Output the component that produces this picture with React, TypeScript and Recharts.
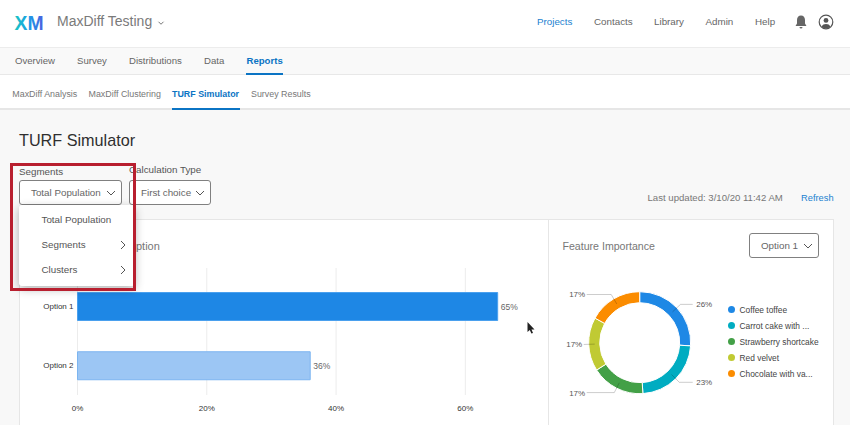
import { Bar, BarChart, CartesianGrid, Cell, LabelList, Legend, Pie, PieChart, XAxis, YAxis } from "recharts";
import type { CSSProperties, ReactNode } from "react";

const optionNames = ["Option 1", "Option 2"];
const optionReach = [65, 36];
const optionFills = ["#1e87e5", "#97c3f3"];
const optionStrokes = ["#4aa0ee", "#7cb5f0"];
const reachTicks = [0, 20, 40, 60];

const featureNames = ["Coffee toffee", "Carrot cake with ...", "Strawberry shortcake", "Red velvet", "Chocolate with va..."];
const featureShares = [26, 23, 17, 17, 17];
const featureColors = ["#1e88e5", "#00acc1", "#43a047", "#c0ca33", "#fb8c00"];

const topLinks = [["Projects", 537], ["Contacts", 594], ["Library", 654], ["Admin", 705.5], ["Help", 755]] as const;
const navTabs = [["Overview", 15], ["Survey", 77], ["Distributions", 129], ["Data", 204], ["Reports", 246.5]] as const;
const subTabs = [["MaxDiff Analysis", 12.3], ["MaxDiff Clustering", 88.5], ["TURF Simulator", 172], ["Survey Results", 251]] as const;

const FONT = "'Liberation Sans', Arial, sans-serif";
const BLUE = "#0b74c4";

const barData = optionNames.map((name, i) => ({ name, reach: optionReach[i] }));
const pieData = featureNames.map((name, i) => ({ name, share: featureShares[i] }));

function Txt({ x, y, size = 10, color = "#666", bold, children }: { x: number; y: number; size?: number; color?: string; bold?: boolean; children: ReactNode }) {
  const style: CSSProperties = {
    position: "absolute",
    left: x,
    top: y - 9.5,
    height: 20,
    lineHeight: "20px",
    fontSize: size,
    color,
    fontWeight: bold ? 700 : 400,
    whiteSpace: "nowrap",
  };
  return <div style={style}>{children}</div>;
}

function Box({ x, y, w, h, style }: { x: number; y: number; w: number; h: number; style: CSSProperties }) {
  return <div style={{ position: "absolute", left: x, top: y, width: w, height: h, boxSizing: "border-box", ...style }} />;
}

function Chevron({ x, y, size = 4, dir = "down", color = "#555" }: { x: number; y: number; size?: number; dir?: "down" | "right"; color?: string }) {
  const d = dir === "down" ? `M${-size} ${-size / 2}L0 ${size / 2}L${size} ${-size / 2}` : `M${-size / 2} ${-size}L${size / 2} 0L${-size / 2} ${size}`;
  return (
    <svg width={20} height={20} viewBox="-10 -10 20 20" style={{ position: "absolute", left: x - 10, top: y - 10 }}>
      <path d={d} fill="none" stroke={color} strokeWidth={1} />
    </svg>
  );
}

function Select({ x, y, w, h, label, textX, chevX, size = 9.8 }: { x: number; y: number; w: number; h: number; label: string; textX: number; chevX: number; size?: number }) {
  return (
    <>
      <Box x={x} y={y} w={w} h={h} style={{ background: "#fff", border: "1px solid #808080", borderRadius: 3 }} />
      <Txt x={textX} y={y + h / 2} size={size} color="#666">{label}</Txt>
      <Chevron x={chevX} y={y + h / 2 + 0.5} />
    </>
  );
}

function renderPieLabel(props: any) {
  const { cx, cy, midAngle, outerRadius, value } = props;
  const rad = (-midAngle * Math.PI) / 180;
  const cos = Math.cos(rad);
  const sin = Math.sin(rad);
  const right = cos >= 0;
  const sx = cx + 45 * cos;
  const sy = cy + 45 * sin;
  const ex = cx + 56 * cos;
  const ey = cy + 56 * sin;
  const endX = right ? cx + outerRadius + 2 : Math.min(ex, cx - outerRadius - 2);
  return (
    <g>
      <polyline points={`${sx},${sy} ${ex},${ey} ${endX},${ey}`} fill="none" stroke="rgba(0,0,0,0.2)" strokeWidth={1} />
      <text x={right ? endX + 3.5 : endX - 1.5} y={ey} dy={3} textAnchor={right ? "start" : "end"} fontSize={8} fill="#555" fontFamily={FONT}>
        {`${value}%`}
      </text>
    </g>
  );
}

function FeatureLegend({ payload }: any) {
  return (
    <div>
      {(payload || []).map((item: any) => (
        <div key={item.value} style={{ position: "relative", height: 16, lineHeight: "16px", fontSize: 8.4, color: "#444", whiteSpace: "nowrap", paddingLeft: 12 }}>
          <span style={{ position: "absolute", left: 0, top: 4.5, width: 7, height: 7, borderRadius: "50%", background: item.color }} />
          {item.value}
        </div>
      ))}
    </div>
  );
}

export default function App() {
  return (
    <div style={{ position: "absolute", left: 0, top: 0, width: 850, height: 425, overflow: "hidden", background: "#f8f8f8", fontFamily: FONT }}>
      {/* header */}
      <Box x={0} y={0} w={850} h={48} style={{ background: "#fff", borderBottom: "1px solid #ececec" }} />
      <svg width={34} height={24} style={{ position: "absolute", left: 13, top: 10 }}>
        <defs>
          <linearGradient id="xmLogo" x1="0" y1="0" x2="1" y2="0">
            <stop offset="0%" stopColor="#19c7c2" />
            <stop offset="50%" stopColor="#1c9be6" />
            <stop offset="100%" stopColor="#4b5fe0" />
          </linearGradient>
        </defs>
        <text x={1.5} y={20} fontSize={21} fontWeight={700} fill="url(#xmLogo)" fontFamily={FONT} textLength={29} lengthAdjust="spacingAndGlyphs">XM</text>
      </svg>
      <Txt x={57} y={20.5} size={14} color="#7a7a7a">MaxDiff Testing</Txt>
      <Chevron x={161} y={22.5} size={2.5} color="#777" />
      {topLinks.map(([label, x]) => (
        <Txt key={label} x={x} y={21.5} size={9.8} color={label === "Projects" ? "#1b82d0" : "#666"}>{label}</Txt>
      ))}
      <svg width={14} height={16} viewBox="0 0 14 16" style={{ position: "absolute", left: 793.5, top: 14 }}>
        <path d="M7 1.5C4.5 1.5 3 3.5 3 6V9.5L1.5 12H12.5L11 9.5V6C11 3.5 9.5 1.5 7 1.5Z M5.5 13H8.5A1.5 1.5 0 0 1 5.5 13Z" fill="#666" />
      </svg>
      <svg width={16} height={16} viewBox="0 0 16 16" style={{ position: "absolute", left: 818, top: 14 }}>
        <circle cx={8} cy={8} r={6.8} fill="none" stroke="#555" strokeWidth={1.2} />
        <circle cx={8} cy={6.4} r={2.4} fill="#555" />
        <path d="M3.6 12.8C4.4 10.6 6 10 8 10C10 10 11.6 10.6 12.4 12.8C10 15 6 15 3.6 12.8Z" fill="#555" />
      </svg>

      {/* nav rows */}
      <Box x={0} y={48} w={850} h={27} style={{ background: "#f9f9f9", borderBottom: "1px solid #e8e8e8" }} />
      {navTabs.map(([label, x]) => (
        <Txt key={label} x={x} y={60.5} size={9.6} bold={label === "Reports"} color={label === "Reports" ? BLUE : "#666"}>{label}</Txt>
      ))}
      <Box x={246} y={73} w={37} h={2} style={{ background: BLUE }} />
      <Box x={0} y={75} w={850} h={35} style={{ background: "#fff", borderBottom: "2px solid #e6e6e6" }} />
      {subTabs.map(([label, x]) => (
        <Txt key={label} x={x} y={93.5} size={8.9} bold={label === "TURF Simulator"} color={label === "TURF Simulator" ? BLUE : "#777"}>{label}</Txt>
      ))}
      <Box x={172} y={107.5} w={68} h={2} style={{ background: BLUE }} />

      <Txt x={19} y={139} size={16.2} color="#2f2f2f">TURF Simulator</Txt>
      <Txt x={129} y={169.5} size={9.8} color="#555">Calculation Type</Txt>
      <Txt x={19} y={171.5} size={9.8} color="#555">Segments</Txt>
      <Txt x={647.5} y={197.5} size={9.6} color="#777">Last updated: 3/10/20 11:42 AM</Txt>
      <Txt x={801} y={197.5} size={9.3} color="#1b82d0">Refresh</Txt>

      {/* card */}
      <Box x={19} y={219} w={815} h={220} style={{ background: "#fff", border: "1px solid #e6e6e6" }} />
      <Box x={548} y={219} w={1} h={206} style={{ background: "#e6e6e6" }} />
      <Txt x={136} y={245.5} size={11} color="#777">ption</Txt>
      <Txt x={562.5} y={245.5} size={10.6} color="#777">Feature Importance</Txt>
      <Select x={749} y={233} w={70} h={25} label="Option 1" textX={761} chevX={808} />

      <div style={{ position: "absolute", left: 0, top: 219 }}>
        <BarChart width={548} height={206} data={barData} layout="vertical" margin={{ top: 49, right: 18, bottom: 0, left: 0 }}>
          <CartesianGrid horizontal={false} stroke="#ececec" syncWithTicks />
          <XAxis
            type="number"
            domain={[0, 70]}
            ticks={reachTicks}
            tickFormatter={(v: number) => `${v}%`}
            axisLine={false}
            tickLine={false}
            height={30}
            tickMargin={4}
            tick={{ fontSize: 8, fill: "#333", fontFamily: FONT }}
          />
          <YAxis
            type="category"
            dataKey="name"
            width={77.5}
            axisLine={false}
            tickLine={false}
            padding={{ top: 8.5, bottom: 0 }}
            tickSize={0}
            tickMargin={4}
            tick={{ fontSize: 8, fill: "#333", fontFamily: FONT }}
          />
          <Bar dataKey="reach" barSize={28} isAnimationActive={false}>
            {barData.map((d, i) => (
              <Cell key={d.name} fill={optionFills[i]} stroke={optionStrokes[i]} fillOpacity={i === 1 ? 0.95 : 1} />
            ))}
            <LabelList dataKey="reach" position="right" offset={3} formatter={(v: any) => `${v}%`} style={{ fontSize: 8.5, fill: "#666", fontFamily: FONT }} />
          </Bar>
        </BarChart>
      </div>

      <div style={{ position: "absolute", left: 549, top: 219 }}>
        <PieChart width={284} height={206} margin={{ top: 0, right: 0, bottom: 0, left: 0 }}>
          <Pie
            data={pieData}
            dataKey="share"
            nameKey="name"
            cx={90.7}
            cy={123.7}
            innerRadius={40}
            outerRadius={51}
            startAngle={90}
            endAngle={-270}
            stroke="#fff"
            strokeWidth={1}
            label={renderPieLabel}
            labelLine={false}
            isAnimationActive={false}
          >
            {pieData.map((d, i) => (
              <Cell key={d.name} fill={featureColors[i]} />
            ))}
          </Pie>
          <Legend content={FeatureLegend} itemSorter={null} layout="vertical" wrapperStyle={{ left: 178.5, top: 82.7, width: 105, bottom: "auto" }} />
        </PieChart>
      </div>

      <svg width={12} height={16} viewBox="0 0 12 16" style={{ position: "absolute", left: 526, top: 321 }}>
        <path d="M1.5 1V11L3.8 9L5.4 12.6L7 12L5.5 8.5H8.5Z" fill="#222" />
      </svg>

      {/* open dropdown */}
      <Select x={19} y={180} w={103} h={25} label="Total Population" textX={31} chevX={111} />
      <Select x={129} y={180} w={82} h={25} label="First choice" textX={141} chevX={199.5} />
      <Box x={19} y={205} w={116} h={81} style={{ background: "#fff", borderRadius: 3, boxShadow: "0 3px 10px rgba(0,0,0,0.3)" }} />
      <Txt x={41.5} y={219.5} size={9.8} color="#555">Total Population</Txt>
      <Txt x={41.5} y={244.5} size={9.8} color="#555">Segments</Txt>
      <Chevron x={122.5} y={245} dir="right" />
      <Txt x={41.5} y={269.5} size={9.8} color="#555">Clusters</Txt>
      <Chevron x={122.5} y={270} dir="right" />

      <Box x={10} y={163} w={126} h={128} style={{ border: "3px solid #b81f2f" }} />
    </div>
  );
}
